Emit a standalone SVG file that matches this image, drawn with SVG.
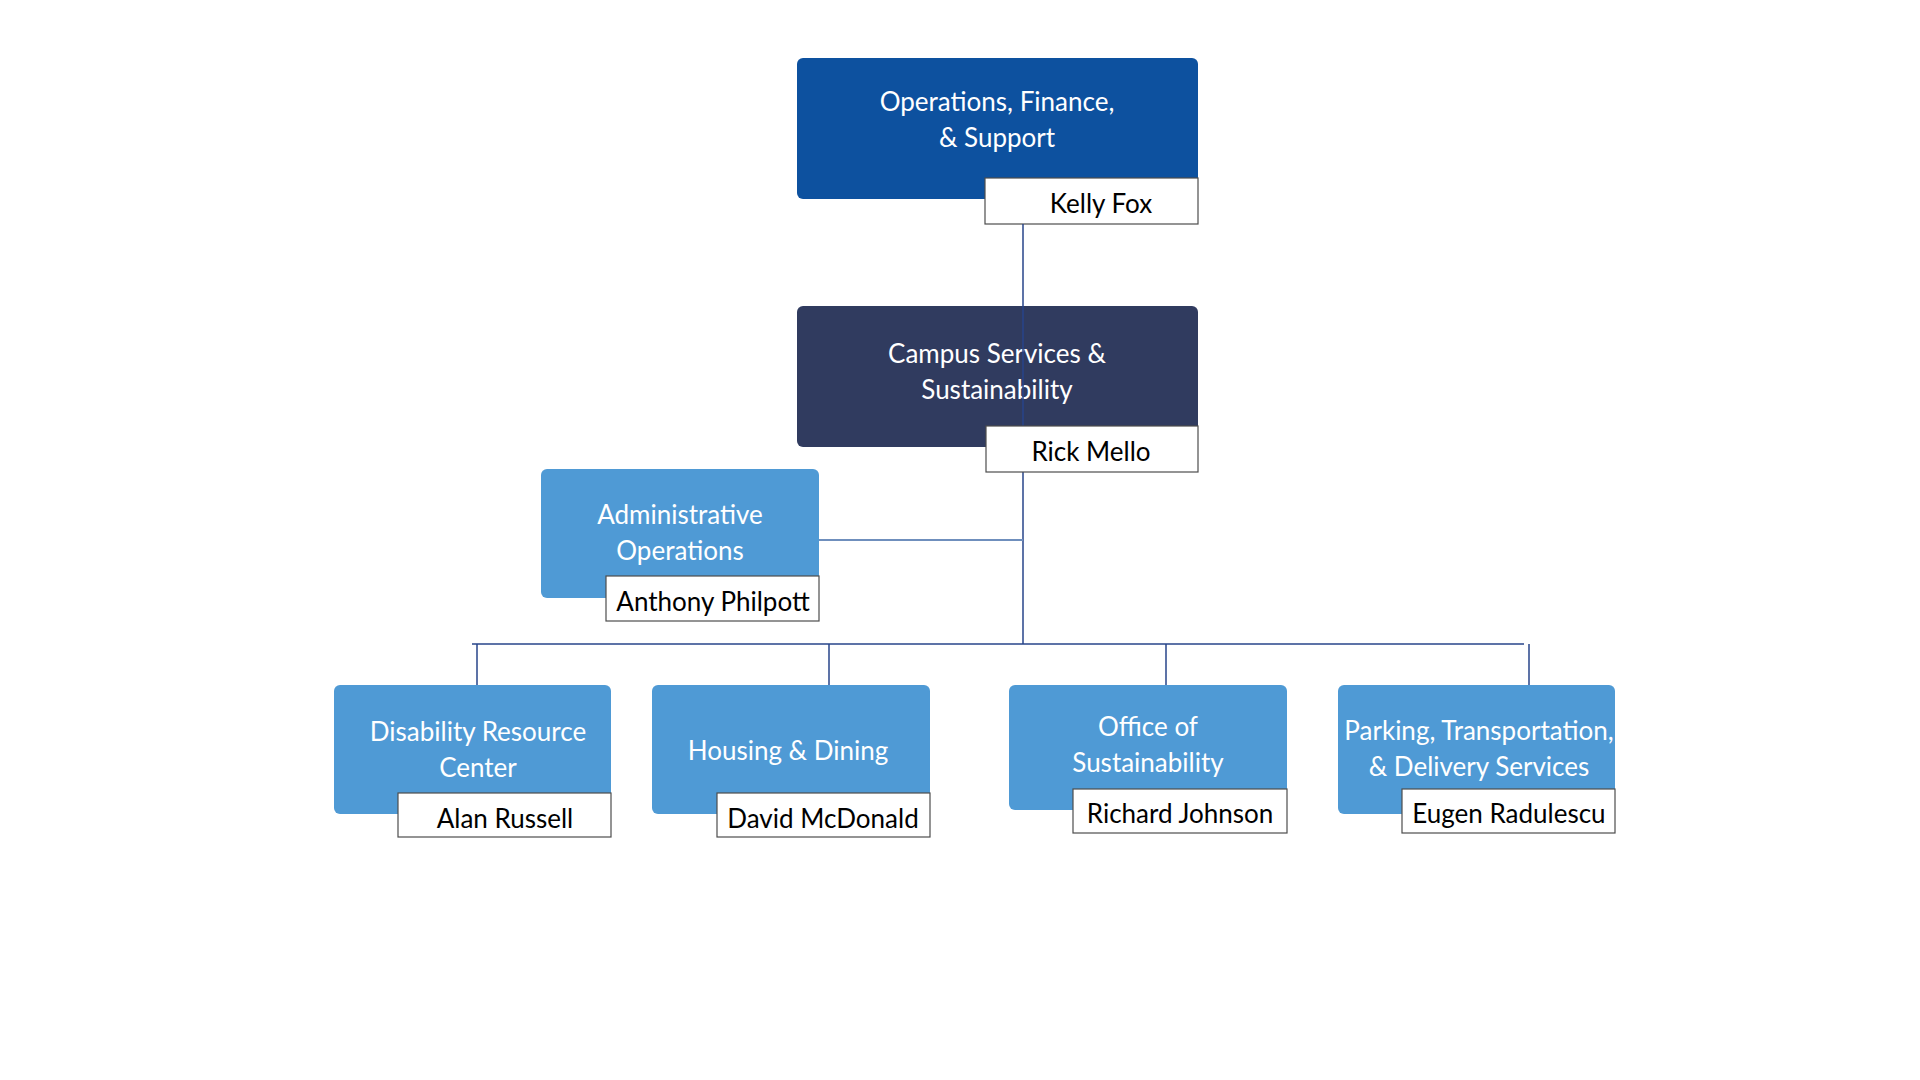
<svg xmlns="http://www.w3.org/2000/svg" width="1920" height="1080" viewBox="0 0 1920 1080">
<style>
.box{stroke:none}
.top{fill:#0d519f}
.mid{fill:#303b5f}
.unit{fill:#4f9ad5}
.name{fill:#ffffff;stroke:#4d4d4d;stroke-width:1.2}
.t{font-family:Lato,"Liberation Sans",sans-serif;font-size:26px;fill:#ffffff;text-anchor:middle}
.n{font-family:Lato,"Liberation Sans",sans-serif;font-size:26px;fill:#000000;text-anchor:middle}
.c{stroke:#27448a;stroke-width:1.5;fill:none}
.cl{stroke:#6f8fbd;stroke-width:1.8;fill:none}
</style>
<rect width="1920" height="1080" fill="#ffffff"/>
<g id="node-ofs">
<rect class="box top" x="797" y="58" width="401" height="141" rx="6"/>
<text class="t" x="997" y="111">Operations, Finance,</text>
<text class="t" x="997" y="147">&amp; Support</text>
<rect class="name" x="985" y="178" width="213" height="46"/>
<text class="n" x="1101" y="213">Kelly Fox</text>
</g>
<g id="node-css">
<rect class="box mid" x="797" y="306" width="401" height="141" rx="6"/>
<text class="t" x="997" y="363">Campus Services &amp;</text>
<text class="t" x="997" y="399">Sustainability</text>
</g>
<g id="node-admin">
<rect class="box unit" x="541" y="469" width="278" height="129" rx="6"/>
<text class="t" x="680" y="524">Administrative</text>
<text class="t" x="680" y="560">Operations</text>
<rect class="name" x="606" y="576" width="213" height="45"/>
<text class="n" x="713" y="611">Anthony Philpott</text>
</g>
<g id="node-drc">
<rect class="box unit" x="334" y="685" width="277" height="129" rx="6"/>
<text class="t" x="478" y="741">Disability Resource</text>
<text class="t" x="478" y="777">Center</text>
<rect class="name" x="398" y="793" width="213" height="44"/>
<text class="n" x="505" y="828">Alan Russell</text>
</g>
<g id="node-hd">
<rect class="box unit" x="652" y="685" width="278" height="129" rx="6"/>
<text class="t" x="788" y="760">Housing &amp; Dining</text>
<rect class="name" x="717" y="793" width="213" height="44"/>
<text class="n" x="823" y="828">David McDonald</text>
</g>
<g id="node-os">
<rect class="box unit" x="1009" y="685" width="278" height="125" rx="6"/>
<text class="t" x="1148" y="736">Office of</text>
<text class="t" x="1148" y="772">Sustainability</text>
<rect class="name" x="1073" y="789" width="214" height="44"/>
<text class="n" x="1180" y="823">Richard Johnson</text>
</g>
<g id="node-ptd">
<rect class="box unit" x="1338" y="685" width="277" height="129" rx="6"/>
<text class="t" x="1479" y="740">Parking, Transportation,</text>
<text class="t" x="1479" y="776">&amp; Delivery Services</text>
<rect class="name" x="1402" y="789" width="213" height="44"/>
<text class="n" x="1509" y="823">Eugen Radulescu</text>
</g>
<g id="connectors">
<line class="c" x1="1023" y1="224" x2="1023" y2="426"/>
<line class="c" x1="1023" y1="472" x2="1023" y2="644"/>
<line class="cl" x1="819" y1="540" x2="1023" y2="540"/>
<line class="c" x1="472" y1="644" x2="1524" y2="644"/>
<line class="c" x1="477" y1="644" x2="477" y2="685"/>
<line class="c" x1="829" y1="644" x2="829" y2="685"/>
<line class="c" x1="1166" y1="644" x2="1166" y2="685"/>
<line class="c" x1="1529" y1="644" x2="1529" y2="685"/>
</g>
<g id="node-css-name">
<rect class="name" x="986" y="426" width="212" height="46"/>
<text class="n" x="1091" y="461">Rick Mello</text>
</g>
</svg>
